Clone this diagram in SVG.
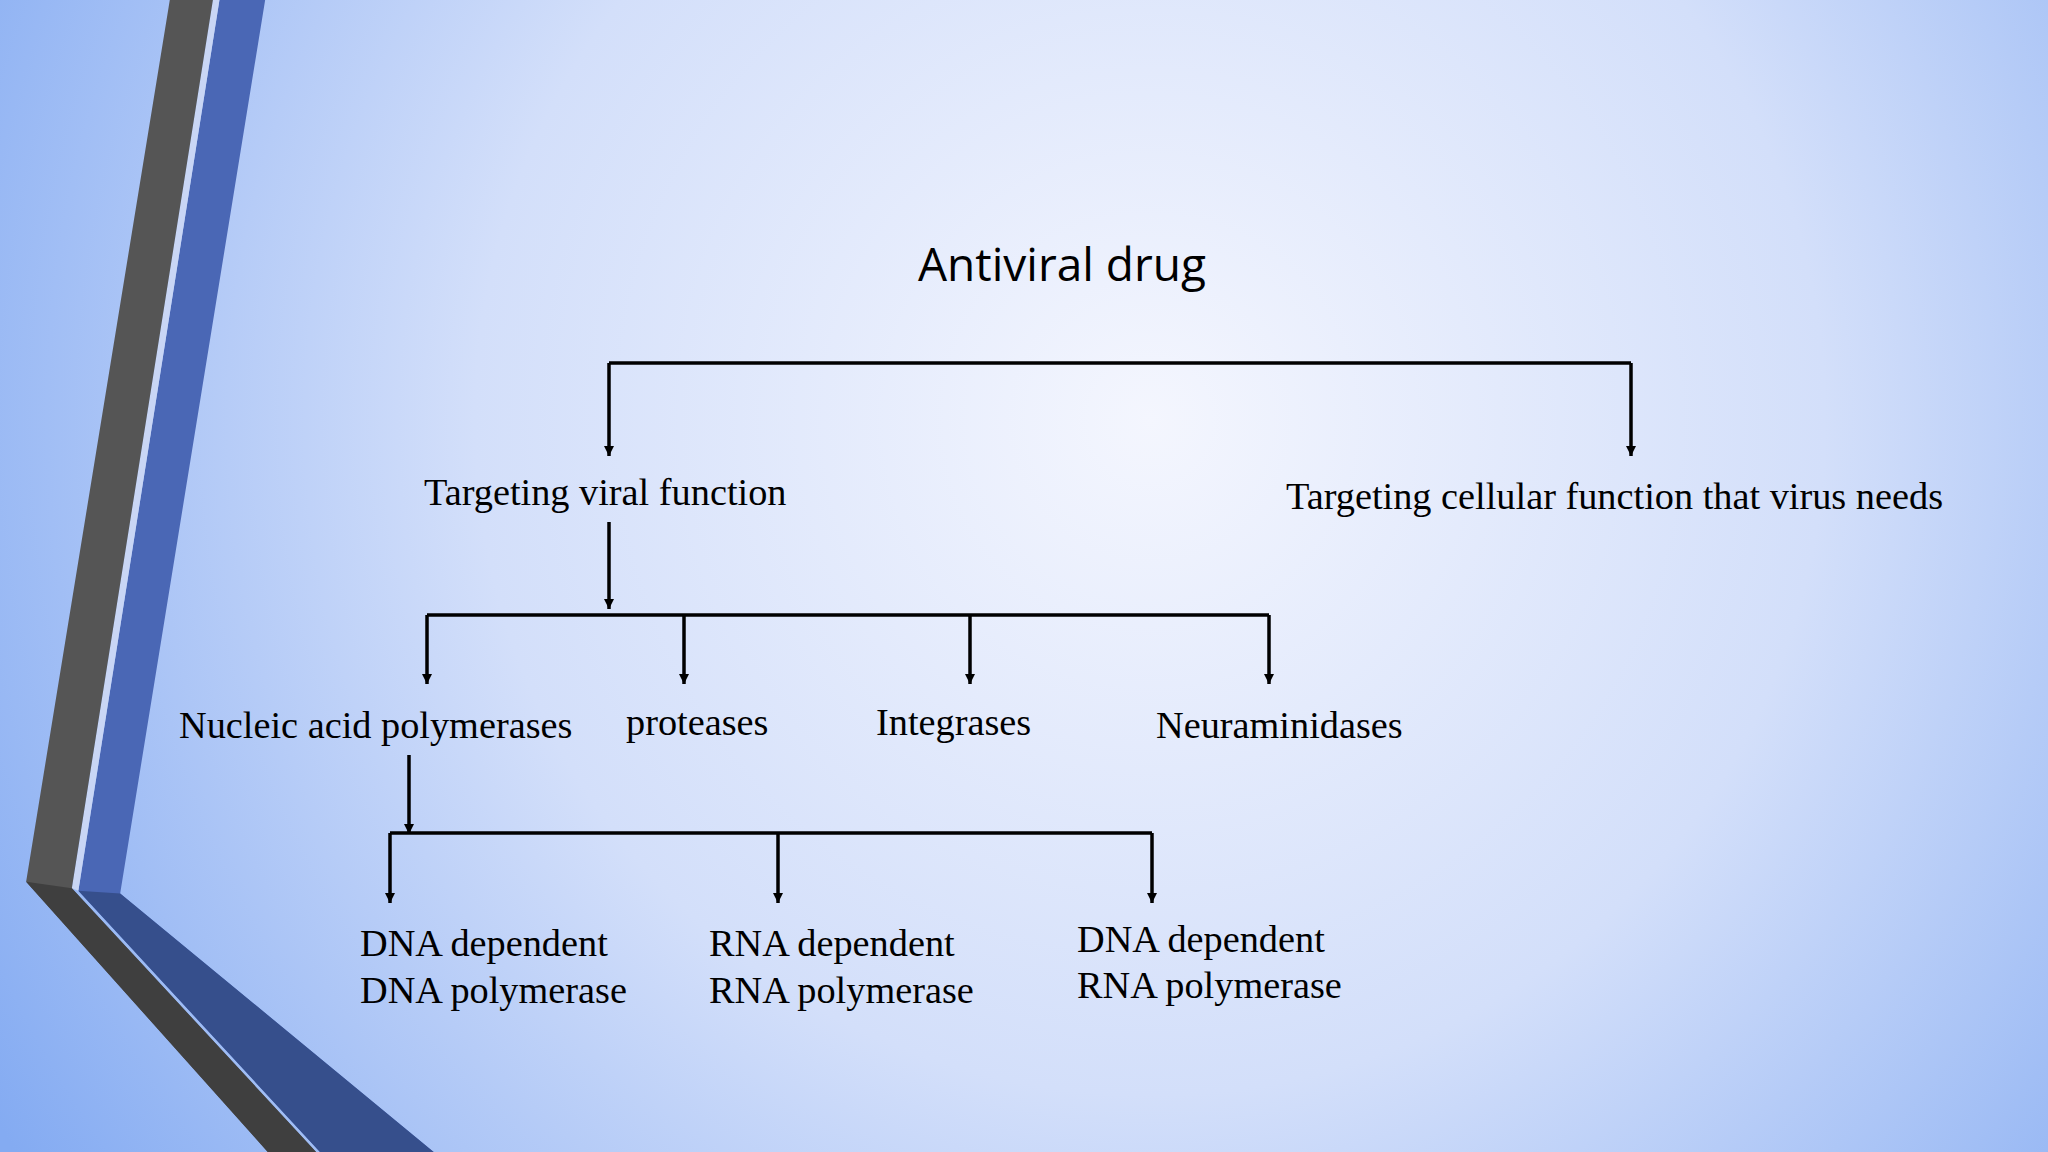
<svg xmlns="http://www.w3.org/2000/svg" width="2048" height="1152" viewBox="0 0 2048 1152">
<defs>
<radialGradient id="bg" cx="1150" cy="420" r="1350" gradientUnits="userSpaceOnUse">
<stop offset="0" stop-color="#f4f6fe"/>
<stop offset="0.5" stop-color="#d3dffa"/>
<stop offset="1" stop-color="#84abf2"/>
</radialGradient>
<marker id="ah" viewBox="0 0 10 10" refX="10" refY="5" markerWidth="10" markerHeight="10" markerUnits="userSpaceOnUse" orient="auto">
<path d="M0,0 L10,5 L0,10 Z" fill="#000"/>
</marker>
<style>
.c{fill:none;stroke:#000;stroke-width:3.5}
.a{marker-end:url(#ah)}
.s{font-family:"Liberation Serif",serif;font-size:38.3px;fill:#000}
.t{font-family:"Open Sans","Liberation Sans",sans-serif;font-size:46px;fill:#000}
</style>
</defs>
<rect width="2048" height="1152" fill="url(#bg)"/>
<g id="decor" transform="scale(1.30612)">
<polygon points="168,0 203,0 92,684 332,882 245,882 60,682" fill="#4a67b5"/>
<polygon points="163,0 168,0 60,682 55,680" fill="#c9d6f5"/>
<polygon points="130,0 163,0 55,680 242,882 205,882 20,675" fill="#555"/>
<polygon points="20,675 55,680 242,882 205,882" fill="#3f3f3f"/>
<polygon points="60,682 92,684 332,882 245,882" fill="#364f8c"/>
</g>
<g id="connectors">
<path class="c" d="M609,363 H1631"/>
<path class="c a" d="M609,363 V456"/>
<path class="c a" d="M1631,363 V456"/>
<path class="c a" d="M609,522 V609"/>
<path class="c" d="M427,615 H1269"/>
<path class="c a" d="M427,615 V684"/>
<path class="c a" d="M684,615 V684"/>
<path class="c a" d="M970,615 V684"/>
<path class="c a" d="M1269,615 V684"/>
<path class="c a" d="M409,755 V834"/>
<path class="c" d="M390,833 H1152"/>
<path class="c a" d="M390,833 V903"/>
<path class="c a" d="M778,833 V903"/>
<path class="c a" d="M1152,833 V903"/>
</g>
<g id="n-root"><text class="t" x="1062" y="281" text-anchor="middle">Antiviral drug</text></g>
<g id="n-viral"><text class="s" x="424" y="505">Targeting viral function</text></g>
<g id="n-cell"><text class="s" x="1286" y="509">Targeting cellular function that virus needs</text></g>
<g id="n-nap"><text class="s" x="179" y="738">Nucleic acid polymerases</text></g>
<g id="n-prot"><text class="s" x="626" y="735">proteases</text></g>
<g id="n-int"><text class="s" x="876" y="735">Integrases</text></g>
<g id="n-neu"><text class="s" x="1156" y="738">Neuraminidases</text></g>
<g id="n-dd"><text class="s" x="360" y="956">DNA dependent</text><text class="s" x="360" y="1003">DNA polymerase</text></g>
<g id="n-rr"><text class="s" x="709" y="956">RNA dependent</text><text class="s" x="709" y="1003">RNA polymerase</text></g>
<g id="n-dr"><text class="s" x="1077" y="952">DNA dependent</text><text class="s" x="1077" y="998">RNA polymerase</text></g>
</svg>
